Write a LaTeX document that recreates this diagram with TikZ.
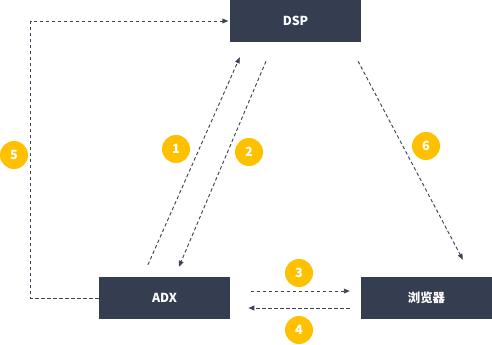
\documentclass[tikz,border=0pt]{standalone}
\usepackage{fontspec}
\setmainfont{Noto Sans CJK SC}
\usepackage{tikz}
\usepackage{xcolor}
\usetikzlibrary{arrows.meta, positioning, calc}
\definecolor{boxc}{HTML}{343E50}
\definecolor{linec}{HTML}{3C4557}
\definecolor{badge}{HTML}{FFC000}
\tikzset{
  party/.style={draw=none, fill=boxc, text=white, minimum width=98.25pt, minimum height=31.5pt,
                inner sep=0pt, font=\bfseries\fontsize{9.3}{10}\selectfont},
  flow/.style={draw=linec, line width=0.7pt, dash pattern=on 2.6pt off 1.9pt,
               -{Triangle[length=4.5pt,width=3.6pt]}},
  num/.style={circle, fill=badge, text=white, minimum size=21pt, inner sep=0pt,
              font=\bfseries\fontsize{9.5}{10}\selectfont},
}
\begin{document}
\begin{tikzpicture}[x=0.75pt, y=-0.75pt]
  \useasboundingbox (0,0) rectangle (492,345);
  % ---------------- parties ----------------
  \node[party] (dsp) at (295.5,21) {DSP};
  \node[party] (adx) at (164.5,298) {ADX};
  \node[party] (browser) at (426.5,298) {浏览器};

  % ---------------- flows ----------------
  \draw[flow, shorten <=9.8pt, shorten >=12.3pt] ([xshift=-16.4pt]adx.north) -- ([xshift=-36.8pt]dsp.south);
  \draw[flow, shorten <=15.5pt, shorten >=8.1pt] ([xshift=-16.1pt]dsp.south) -- ([xshift=7.7pt]adx.north);
  \draw[flow, shorten <=15.2pt, shorten >=8.2pt] ([yshift=5.2pt]adx.east) -- ([yshift=5.2pt]browser.west);
  \draw[flow, shorten <=8.2pt, shorten >=13.5pt] ([yshift=-7.5pt]browser.west) -- ([yshift=-7.5pt]adx.east);
  \draw[flow, shorten >=1pt] (adx.west) -- ++(-68,0) |- (dsp.west);
  \draw[flow, shorten <=16pt, shorten >=14.4pt] ([xshift=39.4pt]dsp.south) -- ([xshift=34pt]browser.north);

  % ---------------- steps ----------------
  \node[num] (n1) at (176,149) {1};
  \node[num] (n2) at (249,152) {2};
  \node[num] (n3) at (299,273) {3};
  \node[num] (n4) at (299,330) {4};
  \node[num] (n5) at (14,155) {5};
  \node[num] (n6) at (426,146) {6};
\end{tikzpicture}
\end{document}
